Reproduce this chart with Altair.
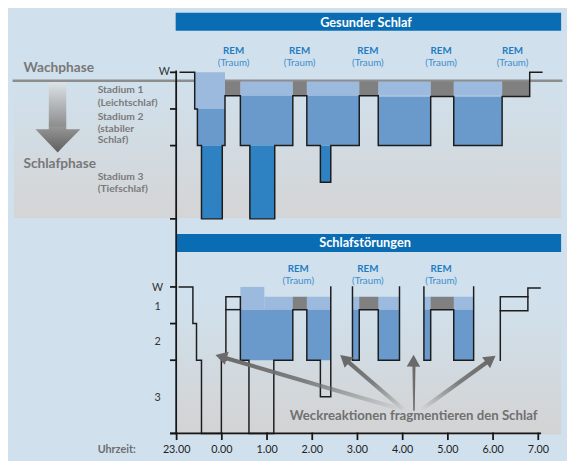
import math
import altair as alt
import pandas as pd

# ---------------- data ----------------
# Gesunder Schlaf: hypnogram (time in hours after 23:00 counted continuously, depth level: 0=W,1,2,4=bottom)
top_t = [23.08, 23.40, 23.40, 23.46, 23.46, 23.55, 23.55, 24.01, 24.01, 24.07, 24.07, 24.41, 24.41,
         24.62, 24.62, 25.17, 25.17, 25.57, 25.57, 25.88, 25.88, 26.18, 26.18, 26.41, 26.41, 27.04,
         27.04, 27.46, 27.46, 28.62, 28.62, 29.13, 29.13, 30.20, 30.20, 30.81, 30.81, 31.08]
top_lvl = [0, 0, 1, 1, 2, 2, 4, 4, 2, 2, 0.64, 0.64, 2,
           2, 4, 4, 2, 2, 0.64, 0.64, 2, 2, 3, 3, 2, 2,
           0.64, 0.64, 2, 2, 0.66, 0.66, 2, 2, 0.66, 0.66, 0, 0]

# Schlafstörungen: hypnogram pieces
bot_paths = {
    "a": ([23.06, 23.36, 23.36, 23.44, 23.44, 23.55, 23.55, 23.99, 23.99, 24.09, 24.09, 24.41, 24.41,
           24.60, 24.60, 25.15, 25.15, 25.57, 25.57, 25.88, 25.88, 26.18, 26.18, 26.41, 26.41],
          [0, 0, 1, 1, 2, 2, 4, 4, 2, 2, 0.27, 0.27, 2,
           2, 4, 4, 2, 2, 0.62, 0.62, 2, 2, 3, 3, 0]),
    "a2": ([24.09, 24.41], [0.62, 0.62]),
    "b": ([26.89, 26.89, 27.04, 27.04, 27.46, 27.46, 27.93, 27.93], [0, 2, 2, 0.62, 0.62, 2, 2, 0]),
    "c": ([28.47, 28.47, 28.62, 28.62, 29.13, 29.13, 29.57, 29.57], [0, 2, 2, 0.62, 0.62, 2, 2, 0]),
    "d": ([30.16, 30.16, 30.77], [2, 0.27, 0.27]),
    "d2": ([30.16, 30.77, 30.77, 31.04], [0.65, 0.65, 0.03, 0.03]),
}

# shaded stage blocks: (start, end, level_top, level_bottom, kind)
top_blocks_start = [23.40, 24.41, 25.88, 27.46, 29.13, 23.46, 24.41, 25.88, 27.46, 29.13,
                    23.55, 24.62, 26.18, 24.07, 25.57, 27.04, 28.62, 30.20]
top_blocks_end = [24.07, 25.57, 27.04, 28.62, 30.20, 24.07, 25.57, 27.04, 28.62, 30.20,
                  24.01, 25.17, 26.41, 24.41, 25.88, 27.46, 29.13, 30.81]
top_blocks_lo = [0, 0.25, 0.25, 0.25, 0.25, 1, 0.64, 0.64, 0.66, 0.66,
                 2, 2, 2, 0.25, 0.25, 0.25, 0.25, 0.25]
top_blocks_hi = [1, 0.64, 0.64, 0.64, 0.64, 2, 2, 2, 2, 2,
                 4, 4, 3, 0.64, 0.64, 0.64, 0.66, 0.66]
top_blocks_kind = ["light"] * 5 + ["medium"] * 5 + ["deep"] * 3 + ["rem"] * 5

bot_blocks_start = [24.41, 24.94, 26.89, 28.47, 24.41, 25.88, 26.89, 27.46, 28.47, 29.13,
                    25.57, 27.04, 28.62]
bot_blocks_end = [24.94, 26.41, 27.93, 29.57, 25.57, 26.41, 27.04, 27.93, 28.62, 29.57,
                  25.88, 27.46, 29.13]
bot_blocks_lo = [0, 0.27, 0.27, 0.27, 0.62, 0.62, 0.62, 0.62, 0.62, 0.62, 0.27, 0.27, 0.27]
bot_blocks_hi = [0.62, 0.62, 0.62, 0.62, 2, 2, 2, 2, 2, 2, 0.62, 0.62, 0.62]
bot_blocks_kind = ["light"] * 4 + ["medium"] * 6 + ["rem"] * 3

top_rem_t = [24.26, 25.72, 27.23, 28.85, 30.43]
bot_rem_t = [25.69, 27.23, 28.85]

hour_ticks = [23, 24, 25, 26, 27, 28, 29, 30, 31]
hour_labels = ["23.00", "0.00", "1.00", "2.00", "3.00", "4.00", "5.00", "6.00", "7.00"]
stage_ticks = [0, 1, 2, 4]
bot_stage_labels = ["W", "1", "2", "3"]
bot_stage_label_lvl = [0.03, 0.55, 1.5, 3.02]

# ---------------- geometry helpers (reference layout) ----------------
PXH = 47.5      # px per hour in the reference
PXL = 38.75     # px per level unit
def px(x):
    return 23 + (x - 171) / PXH
def py(y):
    return (y - 63) / PXL

BOFF = py(290)  # vertical offset of the lower panel
XD = [px(0), px(575)]
YD = [py(0), py(467)]
X = alt.Scale(domain=XD, nice=False, zero=False)
Y = alt.Scale(domain=YD, nice=False, zero=False, reverse=True)

COL = {"light": "#9bbade", "medium": "#6a9acc", "deep": "#2e82c2", "rem": "#808080"}
BG = "#d0e1ed"


def enc(ch, **kw):
    return ch.encode(x=alt.X("x:Q", scale=X, axis=None), y=alt.Y("y:Q", scale=Y, axis=None), **kw)


def rect_layer(df, **mk):
    return alt.Chart(df).mark_rect(**mk).encode(
        x=alt.X("x:Q", scale=X, axis=None), x2="x2:Q",
        y=alt.Y("y:Q", scale=Y, axis=None), y2="y2:Q")


def seg_layer(df, color="#1c1c1c", width=1.4):
    return alt.Chart(df).mark_line(color=color, strokeWidth=width, strokeCap="square").encode(
        x=alt.X("x:Q", scale=X, axis=None), y=alt.Y("y:Q", scale=Y, axis=None),
        detail="p:N", order="i:Q")


def text_layer(rows, **mk):
    df = pd.DataFrame(rows, columns=["x", "y", "label"])
    return enc(alt.Chart(df).mark_text(**mk), text="label:N")


def grad(stops, x1=0, y1=0, x2=0, y2=1):
    return alt.Gradient(gradient="linear", x1=x1, y1=y1, x2=x2, y2=y2,
                        stops=[alt.GradientStop(color=c, offset=o) for o, c in stops])

layers = []

# backgrounds
bg_top = pd.DataFrame({"x": [XD[0]], "x2": [XD[1]], "y": [py(0)], "y2": [py(217)]})
layers.append(rect_layer(bg_top, fill=grad([(0, BG), (0.3, BG), (1, "#d4d5d6")])))
bg_bot = pd.DataFrame({"x": [px(171)], "x2": [XD[1]], "y": [py(253)], "y2": [py(446)]})
layers.append(rect_layer(bg_bot, fill=grad([(0, BG), (0.25, BG), (1, "#d3d3d3")])))

# header bars
hdr = pd.DataFrame({"x": [px(170), px(171)], "x2": [XD[1], XD[1]],
                    "y": [py(0), py(234)], "y2": [py(19), py(253)]})
layers.append(rect_layer(hdr, fill="#0a6db3"))

# Wachphase line
wl = pd.DataFrame({"x": [XD[0], XD[1]], "y": [py(72), py(72)], "p": ["w", "w"], "i": [0, 1]})
layers.append(seg_layer(wl, color="#8d8d8d", width=2.6))

# big down arrow
ax_ = [22.7, 36.7, 36.75, 46.0, 55.0, 55.05, 70.0]
atop = [123.3, 123.3, 73.3, 73.3, 73.3, 123.3, 123.3]
abot = [123.3, 138.0, 138.0, 147.7, 138.3, 138.3, 123.3]
arr = pd.DataFrame({"x": [px(v) for v in ax_], "y": [py(v) for v in atop], "y2": [py(v) for v in abot]})
layers.append(alt.Chart(arr).mark_area(orient="vertical",
                                       fill=grad([(0, "#dde3e8"), (0.62, "#8e8e8e"), (0.64, "#959595"), (1, "#5e5e5e")])).encode(
    x=alt.X("x:Q", scale=X, axis=None), y=alt.Y("y:Q", scale=Y, axis=None), y2="y2:Q"))

# stage blocks
blocks = pd.DataFrame({
    "x": top_blocks_start + bot_blocks_start,
    "x2": top_blocks_end + bot_blocks_end,
    "y": top_blocks_lo + [v + BOFF for v in bot_blocks_lo],
    "y2": top_blocks_hi + [v + BOFF for v in bot_blocks_hi],
    "c": [COL[k] for k in top_blocks_kind + bot_blocks_kind],
})
layers.append(rect_layer(blocks).encode(fill=alt.Fill("c:N", scale=None)))

# hypnogram lines
rows = [(t, l, "top", i) for i, (t, l) in enumerate(zip(top_t, top_lvl))]
for key, (ts, ls) in bot_paths.items():
    rows += [(t, l + BOFF, key, i) for i, (t, l) in enumerate(zip(ts, ls))]
hyp = pd.DataFrame(rows, columns=["x", "y", "p", "i"])
layers.append(seg_layer(hyp, width=1.5))

# axes
ax_rows = [(22.99, py(62), "v", 0), (22.99, BOFF + 4, "v", 1),
           (px(165), BOFF + 4, "h", 0), (px(553), BOFF + 4, "h", 1)]
for k, s in enumerate(stage_ticks):
    ax_rows += [(px(165), s, f"tt{k}", 0), (22.99, s, f"tt{k}", 1)]
    ax_rows += [(px(165), s + BOFF, f"bt{k}", 0), (22.99, s + BOFF, f"bt{k}", 1)]
for k, h in enumerate(hour_ticks):
    ax_rows += [(h, BOFF + 4, f"xt{k}", 0), (h, BOFF + 4 + 6 / PXL, f"xt{k}", 1)]
axes = pd.DataFrame(ax_rows, columns=["x", "y", "p", "i"])
layers.append(seg_layer(axes, color="#161616", width=1.8))

# awakening arrows
arrows = [((212, 362), (408, 420)), ((343, 362), (411, 421)), ((420, 362), (419, 421)), ((506, 363), (428, 420))]
heads = []
for k, ((tx, ty), (ox, oy)) in enumerate(arrows):
    dx, dy = tx - ox, ty - oy
    L = math.hypot(dx, dy)
    ux, uy = dx / L, dy / L
    ex, ey = tx - 9 * ux, ty - 9 * uy
    seg = pd.DataFrame({"x": [px(ox), px(ex)], "y": [py(oy), py(ey)], "p": ["a", "a"], "i": [0, 1]})
    gx1, gx2 = (1, 0) if dx < 0 else (0, 1)
    g = grad([(0, "rgba(110,110,110,0)"), (0.55, "rgba(110,110,110,0.85)"), (1, "#6a6a6a")],
             x1=gx1, y1=1, x2=gx2, y2=0)
    layers.append(alt.Chart(seg).mark_line(stroke=g, strokeWidth=4.2).encode(
        x=alt.X("x:Q", scale=X, axis=None), y=alt.Y("y:Q", scale=Y, axis=None), order="i:Q"))
    ang = math.degrees(math.atan2(dx, -dy)) % 360
    heads.append((px(tx - 6 * ux), py(ty - 6 * uy), ang))
hd = pd.DataFrame(heads, columns=["x", "y", "a"])
layers.append(enc(alt.Chart(hd).mark_point(shape="triangle-up", filled=True, size=190, color="#6a6a6a", opacity=1),
                  angle=alt.Angle("a:Q", scale=None)))

# ---------------- texts ----------------
FONT = "Lato"
layers.append(text_layer([(px(370), py(10.5), "Gesunder Schlaf"), (px(369), py(243.5), "Schlafstörungen")],
                         font=FONT, fontSize=13, fontWeight="bold", color="white", align="center", baseline="middle"))
layers.append(text_layer([(px(10), py(58), "Wachphase"), (px(10), py(160), "Schlafphase")],
                         font=FONT, fontSize=14, fontWeight="bold", color="#787878", align="left", baseline="middle"))
stad = [(82, "Stadium 1"), (95, "(Leichtschlaf)"), (110.5, "Stadium 2"), (122.5, "(stabiler"),
        (134.5, "Schlaf)"), (173.5, "Stadium 3"), (186, "(Tiefschlaf)")]
layers.append(text_layer([(px(88), py(y), s) for y, s in stad],
                         font=FONT, fontSize=10.5, fontWeight="bold", color="#7a7a7a", align="left", baseline="middle"))
rem_rows = [(t, py(40.5), "REM") for t in top_rem_t] + [(t, py(271), "REM") for t in bot_rem_t]
traum_rows = [(t, py(53), "(Traum)") for t in top_rem_t] + [(t, py(283.5), "(Traum)") for t in bot_rem_t]
layers.append(text_layer(rem_rows, font=FONT, fontSize=10, fontWeight="bold", color="#1f7cc2",
                         align="center", baseline="middle"))
layers.append(text_layer(traum_rows, font=FONT, fontSize=10, color="#3d8ccb",
                         align="center", baseline="middle"))
layers.append(text_layer([(px(420), py(427), "Weckreaktionen fragmentieren den Schlaf")],
                         font=FONT, fontSize=13.5, fontWeight="bold", color="#707070", align="center", baseline="middle"))
layers.append(text_layer([(px(158), py(62.5), "W")] +
                         [(px(151), l + BOFF, s) for l, s in zip(bot_stage_label_lvl, bot_stage_labels)],
                         font=FONT, fontSize=11, color="#333333", align="center", baseline="middle"))
layers.append(text_layer([(h, py(463), s) for h, s in zip(hour_ticks, hour_labels)],
                         font=FONT, fontSize=11, color="#222222", align="center", baseline="middle"))
layers.append(text_layer([(px(128), py(463), "Uhrzeit:")],
                         font=FONT, fontSize=11, fontWeight="bold", color="#6e6e6e", align="right", baseline="middle"))

chart = alt.layer(*layers).properties(width=559, height=451, padding=0, background=BG).configure_view(stroke=None)
chart.save("out.html", embed_options={"renderer": "svg", "actions": False})
